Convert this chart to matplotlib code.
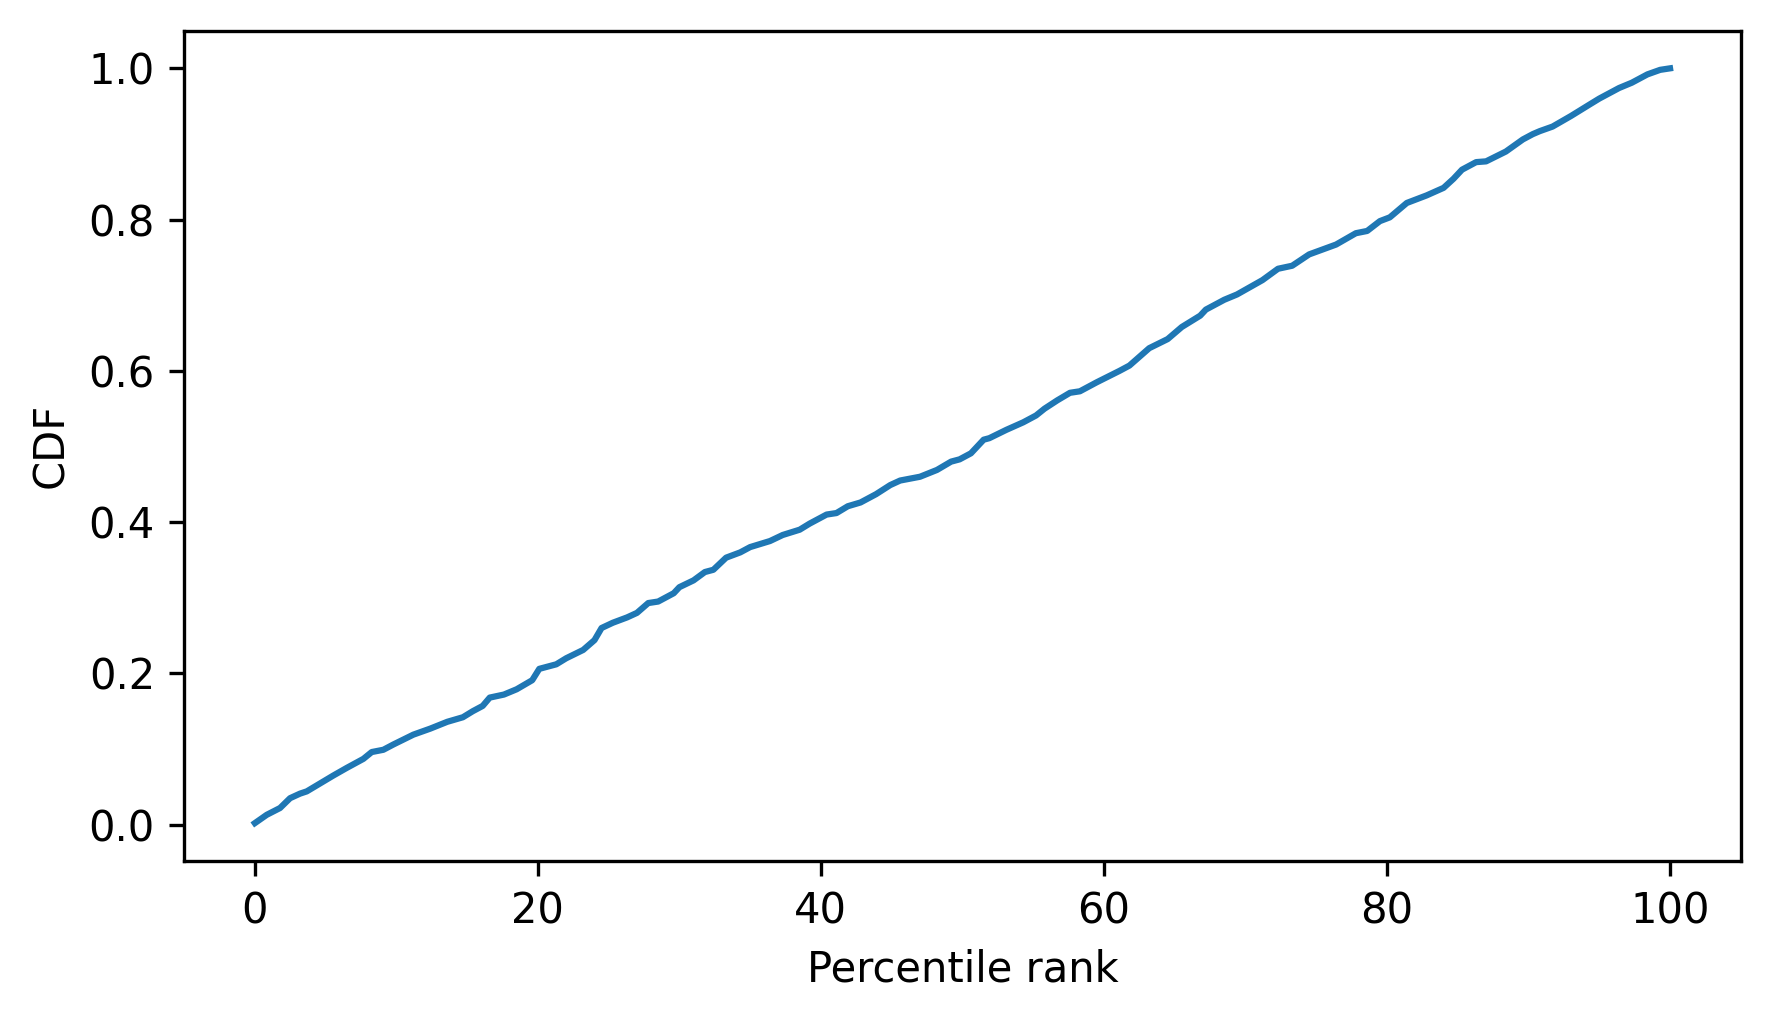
import matplotlib
matplotlib.use("Agg")
import matplotlib.pyplot as plt

# percentile rank vs cumulative probability
ranks = [0.0, 0.84, 1.78, 2.49, 3.19, 3.67, 5.55, 6.49, 7.67, 8.26, 9.08, 9.79,
         11.2, 12.4, 13.6, 14.7, 15.4, 16.1, 16.6, 17.6, 18.5, 19.6, 20.1,
         21.3, 22.0, 23.2, 24.0, 24.5, 25.3, 26.3, 27.0, 27.8, 28.5, 29.6,
         30.0, 31.0, 31.8, 32.4, 33.3, 34.3, 35.0, 36.4, 37.3, 38.5, 39.2,
         40.4, 41.1, 41.9, 42.8, 43.9, 44.9, 45.6, 47.0, 48.2, 49.2, 49.8,
         50.6, 51.5, 51.9, 53.1, 54.3, 55.2, 55.8, 56.7, 57.6, 58.3, 59.5,
         61.1, 61.8, 63.2, 64.5, 65.5, 66.8, 67.2, 68.5, 69.4, 71.2, 72.3,
         73.3, 74.5, 76.4, 77.8, 78.6, 79.5, 80.2, 81.4, 82.8, 84.0, 84.7,
         85.3, 86.3, 87.0, 88.4, 89.6, 90.3, 90.8, 91.7, 93.0, 94.3, 95.0,
         96.4, 97.3, 98.4, 99.3, 100.0]
cdf = [0.002, 0.013, 0.022, 0.035, 0.041, 0.044, 0.065, 0.075, 0.087, 0.096,
       0.099, 0.106, 0.119, 0.127, 0.136, 0.142, 0.150, 0.157, 0.168, 0.172,
       0.179, 0.191, 0.206, 0.212, 0.220, 0.231, 0.244, 0.260, 0.267, 0.274,
       0.280, 0.293, 0.295, 0.306, 0.314, 0.323, 0.334, 0.337, 0.353, 0.360,
       0.367, 0.375, 0.383, 0.390, 0.398, 0.410, 0.412, 0.421, 0.426, 0.437,
       0.449, 0.455, 0.460, 0.469, 0.480, 0.483, 0.491, 0.509, 0.511, 0.522,
       0.532, 0.541, 0.550, 0.561, 0.571, 0.573, 0.585, 0.600, 0.607, 0.630,
       0.642, 0.658, 0.673, 0.681, 0.694, 0.701, 0.720, 0.735, 0.739, 0.754,
       0.767, 0.782, 0.785, 0.798, 0.803, 0.822, 0.832, 0.842, 0.854, 0.866,
       0.876, 0.877, 0.890, 0.906, 0.913, 0.917, 0.923, 0.937, 0.952, 0.960,
       0.974, 0.981, 0.992, 0.998, 1.0]

fig, ax = plt.subplots(figsize=(5.9, 3.4), dpi=300)
ax.plot(ranks, cdf, color='#1f77b4', linewidth=1.5)
ax.set_xlabel('Percentile rank')
ax.set_ylabel('CDF')
fig.subplots_adjust(left=0.104, right=0.9835, top=0.97, bottom=0.156)
fig.savefig('out.png', dpi=300)
